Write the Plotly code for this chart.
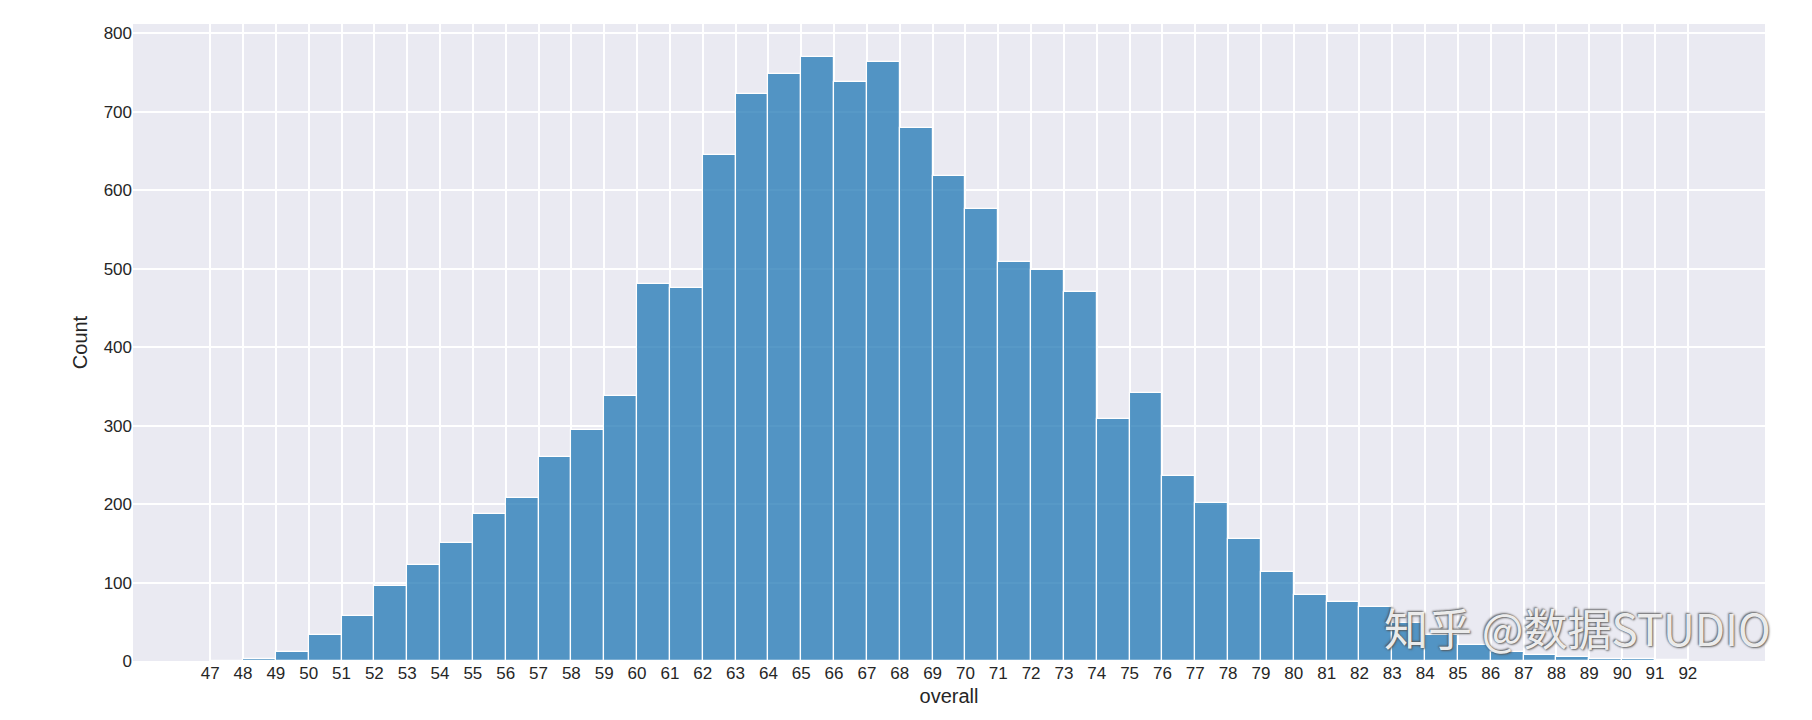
import plotly.graph_objects as go

# histogram of "overall", one bin per integer (left edge)
bin_left = list(range(47, 92))
counts = [0, 3, 12, 33, 57, 95, 123, 150, 188, 208, 260, 295, 338, 481, 476,
          645, 723, 748, 770, 738, 763, 679, 618, 576, 508, 498, 470, 308, 341,
          236, 202, 155, 113, 84, 75, 69, 48, 33, 20, 12, 8, 5, 3, 2, 1]
tick_vals = list(range(47, 93))

fig = go.Figure()
fig.add_trace(go.Bar(
    x=[b + 0.5 for b in bin_left], y=counts, width=1,
    marker=dict(color="rgba(31,119,180,0.75)", line=dict(color="white", width=1.2)),
))

fig.add_annotation(
    text="知乎 @数据STUDIO", xref="paper", yref="paper", x=1.005, y=0.0,
    xanchor="right", yanchor="bottom", showarrow=False,
    font=dict(family="Noto Sans CJK SC", size=44, color="rgba(255,255,255,0.9)",
              shadow="1px 1px 2px #555, -1px -1px 2px #555"),
)

fig.update_layout(
    width=1812, height=720,
    margin=dict(l=125, r=55, t=16, b=67),
    paper_bgcolor="white", plot_bgcolor="#eaeaf2",
    font=dict(family="Liberation Sans, Arial", size=17, color="#262626"),
    showlegend=False, bargap=0,
    xaxis=dict(range=[44.65, 94.35], tickvals=tick_vals, showgrid=True,
               gridcolor="white", gridwidth=1.6, zeroline=False,
               title=dict(text="overall", standoff=6), ticks=""),
    yaxis=dict(range=[0, 812], dtick=100, showgrid=True, gridcolor="white",
               gridwidth=1.6, zeroline=False, title=dict(text="Count", standoff=10),
               ticks=""),
)

fig.write_html("out.html")
